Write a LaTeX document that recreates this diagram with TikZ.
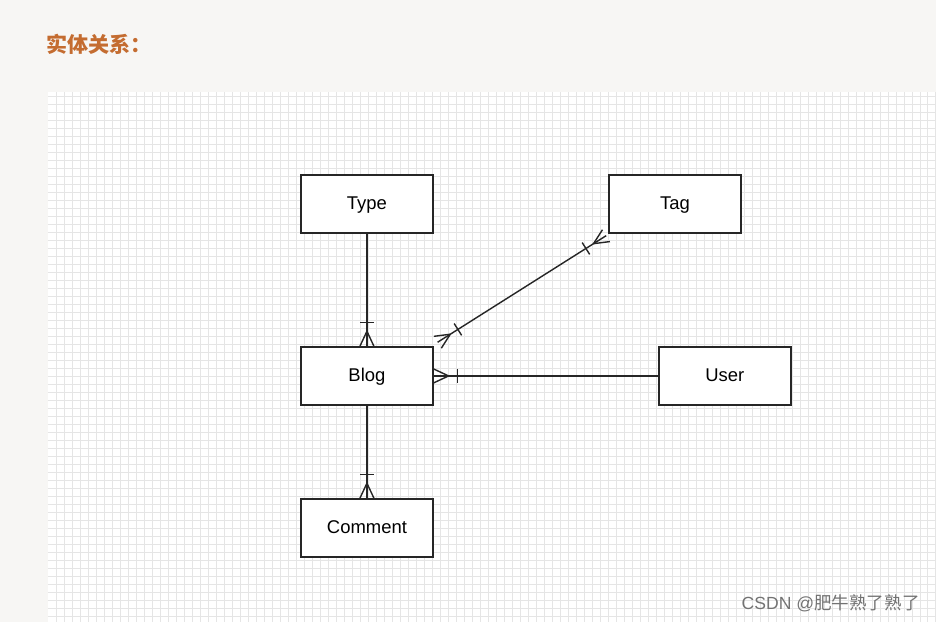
\documentclass[tikz,border=0pt]{standalone}
\usepackage{fontspec}
\setmainfont{Liberation Sans}
\newfontfamily\cjk{Noto Sans CJK SC}
\usetikzlibrary{calc}
\definecolor{bgc}{RGB}{247,246,244}
\definecolor{titlec}{RGB}{196,108,48}
\begin{document}
\begin{tikzpicture}[x=0.02cm,y=-0.02cm,
  ent/.style={draw=black!85,fill=white,line width=0.8pt,minimum width=2.64cm,minimum height=1.16cm,inner sep=0pt,text height=1.6ex,text depth=0.5ex,font=\fontsize{10.5}{12}\selectfont},
  rel/.style={draw=black!85,line width=0.8pt}]
\newcommand\crowfoot[2]{%
  \draw[rel] ($(#2)!0.3cm!(#1)$) -- ($(#2)!0.14cm!90:(#1)$);
  \draw[rel] ($(#2)!0.3cm!(#1)$) -- ($(#2)!0.14cm!-90:(#1)$);
  \coordinate (cfb) at ($(#2)!0.48cm!(#1)$);
  \draw[rel] ($(cfb)!0.14cm!90:(#2)$) -- ($(cfb)!0.14cm!-90:(#2)$);}
\fill[bgc] (0,0) rectangle (936,622);
\fill[white] (48,92) rectangle (936,622);
\draw[black!10,line width=0.2pt,step=0.16cm] (48,92) grid (936,622);
\node[anchor=west,text=titlec,font=\cjk\bfseries\fontsize{12}{14}\selectfont] (title) at (40,44) {实体关系：};
\node[ent] (type) at (367,204) {Type};
\node[ent] (tag) at (675,204) {Tag};
\node[ent] (blog) at (367,376) {Blog};
\node[ent] (user) at (725,376) {User};
\node[ent] (comment) at (367,528) {Comment};
\draw[rel] (type) -- (blog);
\draw[rel] (blog) -- (comment);
\draw[rel] (user) -- (blog);
\coordinate (bt) at ($(blog.north east)+(4,-4)$);
\coordinate (tb) at ($(tag.south west)+(-2,2)$);
\draw[rel] (bt) -- (tb);
\crowfoot{type}{blog.north}
\crowfoot{blog}{comment.north}
\crowfoot{user}{blog.east}
\crowfoot{tb}{bt}
\crowfoot{bt}{tb}
\node[anchor=east,text=black!55,font=\fontsize{10}{12}\selectfont] (wm) at (926,603) {CSDN @{\cjk 肥牛熟了熟了}};
\end{tikzpicture}
\end{document}
